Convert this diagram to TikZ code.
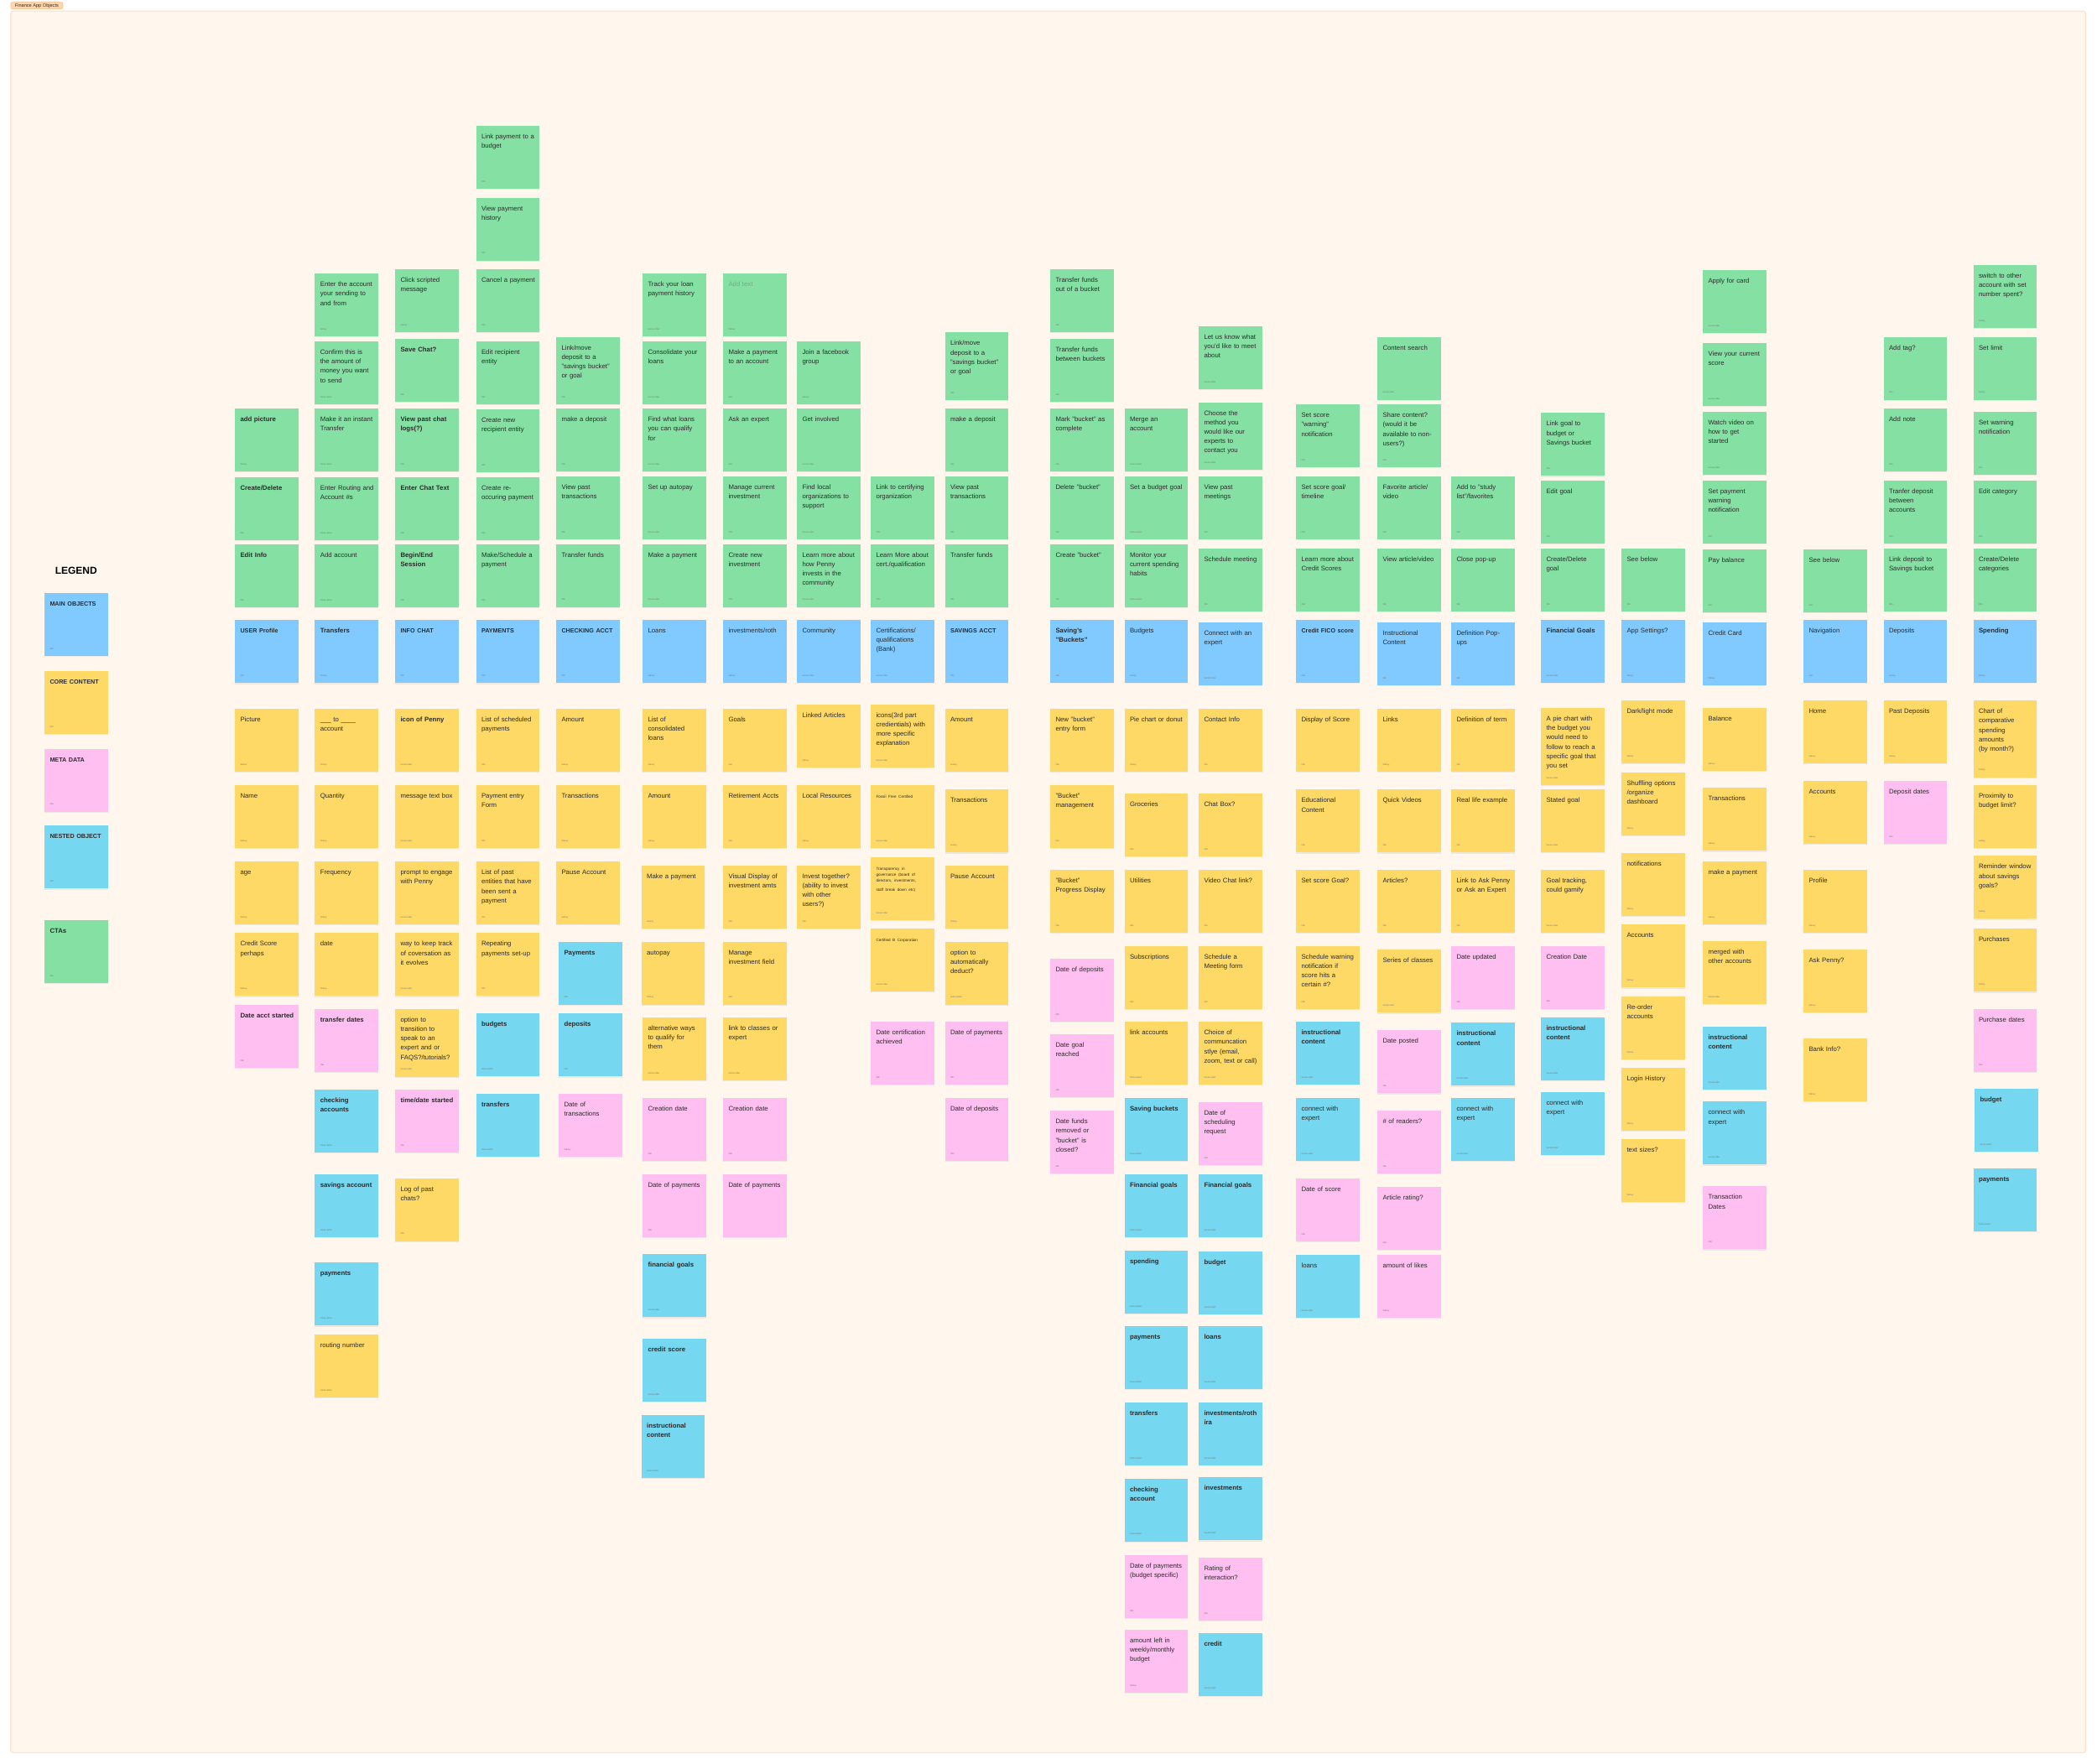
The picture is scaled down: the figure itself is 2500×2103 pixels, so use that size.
\documentclass[tikz,border=0pt]{standalone}
\usepackage{fontspec}
\setmainfont{Liberation Sans}
\usetikzlibrary{shadows}
\definecolor{frameFill}{HTML}{FFF7EE}
\definecolor{frameLine}{HTML}{FFE3C6}
\definecolor{pillFill}{HTML}{FFD6AD}
\definecolor{pillLine}{HTML}{F5B97E}
\definecolor{cG}{HTML}{85E0A3}
\definecolor{cB}{HTML}{80CAFF}
\definecolor{cY}{HTML}{FFD966}
\definecolor{cP}{HTML}{FFBFF0}
\definecolor{cN}{HTML}{75D7F0}
\definecolor{txt}{HTML}{2B2B2B}
\definecolor{authc}{HTML}{7A7A7A}
\definecolor{addtxt}{HTML}{6FAE85}
\newcommand\capsb{\fontsize{7.2}{11.2}\selectfont\bfseries}
\newcommand\tinyfs{\fontsize{4.6}{7}\selectfont}
\tikzset{
  sticky/.style={anchor=north west, inner sep=0pt, outer sep=0pt, minimum width=75.5pt,
    drop shadow={opacity=0.12, shadow xshift=0pt, shadow yshift=-1.2pt}},
  stG/.style={fill=cG}, stB/.style={fill=cB}, stY/.style={fill=cY},
  stP/.style={fill=cP}, stN/.style={fill=cN},
  stxt/.style={anchor=north west, inner sep=0pt, text width=68pt, align=left,
    font=\fontsize{7.8}{11.2}\selectfont, text=txt},
  sauth/.style={anchor=base west, inner sep=0pt, font=\fontsize{2.6}{3}\selectfont, text=authc},
  pill/.style={fill=pillFill, draw=pillLine, line width=0.5pt, rounded corners=2.5pt,
    inner sep=0pt, minimum width=62.3pt, minimum height=8pt, font=\fontsize{5.6}{6}\selectfont, text=txt},
  legendtitle/.style={font=\fontsize{12}{14}\selectfont\bfseries, text=black, inner sep=0pt}
}
\newcommand\stk[7][75]{%
  \node[sticky,#5,minimum height=#1pt] (#2) at (#3,#4) {};
  \node[stxt] (#2-t) at ([xshift=6.3pt,yshift=-7.5pt]#2.north west) {\strut #6};
  \node[sauth] (#2-a) at ([xshift=6.3pt,yshift=7.6pt]#2.south west) {#7};}
\begin{document}
\begin{tikzpicture}[x=1pt,y=-1pt]
\useasboundingbox (0,0) rectangle (2500,2103);
\fill[white] (0,0) rectangle (2500,2103);
\draw[fill=frameFill, draw=frameLine, line width=1.3pt, rounded corners=3pt] (12.7,13.3) rectangle (2486.5,2089.5);
\node[pill] (title) at (43.9,6.7) {Finance App Objects};
% legend
\node[legendtitle] (legend) at (90.8,680.6) {LEGEND};
\stk{L1}{53}{707}{stB}{\capsb MAIN OBJECTS}{Olin}
\stk{L2}{53}{800}{stY}{\capsb CORE CONTENT}{Olin}
\stk{L3}{53}{892.5}{stP}{\capsb META DATA}{Olin}
\stk{L4}{53}{984.3}{stN}{\capsb NESTED OBJECT}{Olin}
\stk{L5}{53}{1097}{stG}{\bfseries CTAs}{Olin}
% col 1
\stk{c1a}{280}{487}{stG}{\bfseries add picture}{Sidney}
\stk{c1b}{280}{568.6}{stG}{\bfseries Create/Delete}{Olin}
\stk{c1c}{280}{648.8}{stG}{\bfseries Edit Info}{Olin}
\stk{c1d}{280}{739.4}{stB}{\capsb USER Profile}{Olin}
\stk{c1e}{280}{844.7}{stY}{Picture}{Sidney}
\stk{c1f}{280}{936}{stY}{Name}{Sidney}
\stk{c1g}{280}{1027}{stY}{age}{Sidney}
\stk{c1h}{280}{1112.3}{stY}{Credit Score\\perhaps}{Sidney}
\stk{c1i}{280}{1198}{stP}{\bfseries Date acct started}{Olin}
% col 2
\stk{c2a}{375.3}{326.1}{stG}{Enter the account\\your sending to\\and from}{Sidney}
\stk{c2b}{375.3}{407}{stG}{Confirm this is\\the amount of\\money you want\\to send}{Greta Heller}
\stk{c2c}{375.3}{487}{stG}{Make it an instant\\Transfer}{Greta Heller}
\stk{c2d}{375.3}{568.6}{stG}{Enter Routing and\\Account \#s}{Greta Heller}
\stk{c2e}{375.3}{648.8}{stG}{Add account}{Greta Heller}
\stk{c2f}{375.3}{739.4}{stB}{\bfseries Transfers}{Sidney}
\stk{c2g}{375.3}{844.7}{stY}{\_\_\_ to \_\_\_\_\\account}{Sidney}
\stk{c2h}{375.3}{936}{stY}{Quantity}{Sidney}
\stk{c2i}{375.3}{1027}{stY}{Frequency}{Sidney}
\stk{c2j}{375.3}{1112.3}{stY}{date}{Sidney}
\stk{c2k}{375.3}{1202.8}{stP}{\bfseries transfer dates}{Olin}
\stk{c2l}{375.3}{1298.9}{stN}{\bfseries checking\\accounts}{Greta Heller}
\stk{c2m}{375.3}{1399.7}{stN}{\bfseries savings account}{Greta Heller}
\stk{c2n}{375.3}{1505.3}{stN}{\bfseries payments}{Greta Heller}
\stk{c2o}{375.3}{1591.1}{stY}{routing number}{Greta Heller}
% col 3
\stk{c3a}{471}{321.2}{stG}{Click scripted\\message}{Sidney}
\stk{c3b}{471}{403.9}{stG}{\bfseries Save Chat?}{Olin}
\stk{c3c}{471}{487}{stG}{\bfseries View past chat\\logs(?)}{Olin}
\stk{c3d}{471}{568.6}{stG}{\bfseries Enter Chat Text}{Olin}
\stk{c3e}{471}{648.8}{stG}{\bfseries Begin/End\\Session}{Olin}
\stk{c3f}{471}{739.4}{stB}{\capsb INFO CHAT}{Olin}
\stk{c3g}{471}{844.7}{stY}{\bfseries icon of Penny}{Greta Heller}
\stk{c3h}{471}{936}{stY}{message text box}{Greta Heller}
\stk{c3i}{471}{1027}{stY}{prompt to engage\\with Penny}{Greta Heller}
\stk{c3j}{471}{1112.3}{stY}{way to keep track\\of coversation as\\it evolves}{Greta Heller}
\stk[80.7]{c3k}{471}{1202.8}{stY}{option to\\transition to\\speak to an\\expert and or\\FAQS?/tutorials?}{Greta Heller}
\stk{c3l}{471}{1298.9}{stP}{\bfseries time/date started}{Olin}
\stk{c3m}{471}{1404.5}{stY}{Log of past\\chats?}{Olin}
% col 4
\stk{c4a}{567.5}{149.8}{stG}{Link payment to a\\budget}{Olin}
\stk{c4b}{567.5}{235.5}{stG}{View payment\\history}{Olin}
\stk{c4c}{567.5}{321.2}{stG}{Cancel a payment}{Olin}
\stk{c4d}{567.5}{407}{stG}{Edit recipient\\entity}{Olin}
\stk{c4e}{567.5}{487.8}{stG}{Create new\\recipient entity}{Olin}
\stk{c4f}{567.5}{568.6}{stG}{Create re-\\occuring payment}{Olin}
\stk{c4g}{567.5}{648.8}{stG}{Make/Schedule a\\payment}{Olin}
\stk{c4h}{567.5}{739.4}{stB}{\capsb PAYMENTS}{Olin}
\stk{c4i}{567.5}{844.7}{stY}{List of scheduled\\payments}{Olin}
\stk{c4j}{567.5}{936}{stY}{Payment entry\\Form}{Olin}
\stk{c4k}{567.5}{1027.2}{stY}{List of past\\entities that have\\been sent a\\payment}{Olin}
\stk{c4l}{567.5}{1112.3}{stY}{Repeating\\payments set-up}{Olin}
\stk{c4m}{567.5}{1208}{stN}{\bfseries budgets}{Greta Heller}
\stk{c4n}{567.5}{1304}{stN}{\bfseries transfers}{Greta Heller}
% col 5
\stk[80.6]{c5a}{663}{401.5}{stG}{Link/move\\deposit to a\\"savings bucket"\\or goal}{Olin}
\stk{c5b}{663}{487.2}{stG}{make a deposit}{Olin}
\stk{c5c}{663}{567.9}{stG}{View past\\transactions}{Olin}
\stk{c5d}{663}{648.5}{stG}{Transfer funds}{Olin}
\stk{c5e}{663}{738.8}{stB}{\capsb CHECKING ACCT}{Olin}
\stk{c5f}{663}{844.9}{stY}{Amount}{Sidney}
\stk{c5g}{663}{936.2}{stY}{Transactions}{Sidney}
\stk{c5h}{663}{1027}{stY}{Pause Account}{Sidney}
\stk{c5i}{666}{1122.5}{stN}{\bfseries Payments}{Olin}
\stk{c5j}{666}{1208.3}{stN}{\bfseries deposits}{Olin}
\stk{c5k}{666}{1304}{stP}{Date of\\transactions}{Sidney}
% col 6
\stk{c6a}{766}{326}{stG}{Track your loan\\payment history}{Greta Heller}
\stk{c6b}{766}{406.6}{stG}{Consolidate your\\loans}{Greta Heller}
\stk{c6c}{766}{487.2}{stG}{Find what loans\\you can qualify\\for}{Greta Heller}
\stk{c6d}{766}{567.9}{stG}{Set up autopay}{Greta Heller}
\stk{c6e}{766}{648.5}{stG}{Make a payment}{Greta Heller}
\stk{c6f}{766}{738.8}{stB}{Loans}{Sidney}
\stk{c6g}{766}{844.9}{stY}{List of\\consolidated\\loans}{Sidney}
\stk{c6h}{766}{936.2}{stY}{Amount}{Sidney}
\stk{c6i}{764.6}{1031.6}{stY}{Make a payment}{Sidney}
\stk{c6j}{764.6}{1122.5}{stY}{autopay}{Sidney}
\stk{c6k}{766}{1213}{stY}{alternative ways\\to qualify for\\them}{Greta Heller}
\stk{c6l}{766}{1309.2}{stP}{Creation date}{Olin}
\stk{c6m}{766}{1399.7}{stP}{Date of payments}{Olin}
\stk{c6n}{766}{1495.4}{stN}{\bfseries financial goals}{Greta Heller}
\stk{c6o}{766}{1595.8}{stN}{\bfseries credit score}{Greta Heller}
\stk{c6p}{764.6}{1686.8}{stN}{\bfseries instructional\\content}{Greta Heller}
% col 7
\stk{c7a}{862}{326}{stG}{\color{addtxt}Add text}{Sidney}
\stk{c7b}{862}{406.6}{stG}{Make a payment\\to an account}{Olin}
\stk{c7c}{862}{487.2}{stG}{Ask an expert}{Olin}
\stk{c7d}{862}{567.9}{stG}{Manage current\\investment}{Olin}
\stk{c7e}{862}{648.5}{stG}{Create new\\investment}{Olin}
\stk{c7f}{862}{738.8}{stB}{investments/roth}{Sidney}
\stk{c7g}{862}{844.9}{stY}{Goals}{Olin}
\stk{c7h}{862}{936.2}{stY}{Retirement Accts}{Olin}
\stk{c7i}{862}{1031.6}{stY}{Visual Display of\\investment amts}{Olin}
\stk{c7j}{862}{1122.5}{stY}{Manage\\investment field}{Olin}
\stk{c7k}{862}{1213}{stY}{link to classes or\\expert}{Greta Heller}
\stk{c7l}{862}{1309.2}{stP}{Creation date}{Olin}
\stk{c7m}{862}{1399.7}{stP}{Date of payments}{}
% col 8
\stk{c8a}{950}{406.6}{stG}{Join a facebook\\group}{Sidney}
\stk{c8b}{950}{487.2}{stG}{Get involved}{Greta Heller}
\stk{c8c}{950}{567.9}{stG}{Find local\\organizations to\\support}{Greta Heller}
\stk{c8d}{950}{648.5}{stG}{Learn more about\\how Penny\\invests in the\\community}{Greta Heller}
\stk{c8e}{950}{738.8}{stB}{Community}{Greta Heller}
\stk{c8f}{950}{839.8}{stY}{Linked Articles}{Sidney}
\stk{c8g}{950}{936.2}{stY}{Local Resources}{Sidney}
\stk{c8h}{950}{1031.6}{stY}{Invest together?\\(ability to invest\\with other\\users?)}{Olin}
% col 9
\stk{c9a}{1038}{567.9}{stG}{Link to certifying\\organization}{Olin}
\stk{c9b}{1038}{648.5}{stG}{Learn More about\\cert./qualification}{Olin}
\stk{c9c}{1038}{738.8}{stB}{Certifications/\\qualifications\\(Bank)}{Greta Heller}
\stk{c9d}{1038}{839.8}{stY}{icons(3rd part\\credientials) with\\more specific\\explanation}{Greta Heller}
\stk{c9e}{1038}{936.2}{stY}{\tinyfs Fossil Free Certified}{Greta Heller}
\stk{c9f}{1038}{1022}{stY}{\tinyfs Transparency in\\governance (board of\\directors, investments,\\staff break down etc)}{Greta Heller}
\stk{c9g}{1038}{1106.8}{stY}{\tinyfs Certified B Corporation}{Greta Heller}
\stk{c9h}{1038}{1218.2}{stP}{Date certification\\achieved}{Olin}
% col 10
\stk[80.6]{c10a}{1126.5}{396.4}{stG}{Link/move\\deposit to a\\"savings bucket"\\or goal}{Olin}
\stk{c10b}{1126.5}{487.2}{stG}{make a deposit}{Olin}
\stk{c10c}{1126.5}{567.9}{stG}{View past\\transactions}{Olin}
\stk{c10d}{1126.5}{648.5}{stG}{Transfer funds}{Olin}
\stk{c10e}{1126.5}{738.8}{stB}{\capsb SAVINGS ACCT}{Olin}
\stk{c10f}{1126.5}{844.9}{stY}{Amount}{Sidney}
\stk{c10g}{1126.5}{941.3}{stY}{Transactions}{Sidney}
\stk{c10h}{1126.5}{1031.6}{stY}{Pause Account}{Sidney}
\stk{c10i}{1126.5}{1122.5}{stY}{option to\\automatically\\deduct?}{Greta Heller}
\stk{c10j}{1126.5}{1218.2}{stP}{Date of payments}{Olin}
\stk{c10k}{1126.5}{1309.2}{stP}{Date of deposits}{Olin}
% col 11
\stk{c11a}{1252}{320.9}{stG}{Transfer funds\\out of a bucket}{Olin}
\stk{c11b}{1252}{404}{stG}{Transfer funds\\between buckets}{Olin}
\stk{c11c}{1252}{487.2}{stG}{Mark "bucket" as\\complete}{Olin}
\stk{c11d}{1252}{567.9}{stG}{Delete "bucket"}{Olin}
\stk{c11e}{1252}{648.5}{stG}{Create "bucket"}{Olin}
\stk{c11f}{1252}{738.8}{stB}{\bfseries Saving's\\"Buckets"}{Olin}
\stk{c11g}{1252}{844.9}{stY}{New "bucket"\\entry form}{Olin}
\stk{c11h}{1252}{936.2}{stY}{"Bucket"\\management}{Olin}
\stk{c11i}{1252}{1037.2}{stY}{"Bucket"\\Progress Display}{Olin}
\stk{c11j}{1252}{1142.6}{stP}{Date of deposits}{Olin}
\stk{c11k}{1252}{1233.1}{stP}{Date goal\\reached}{Olin}
\stk{c11l}{1252}{1324.2}{stP}{Date funds\\removed or\\"bucket" is\\closed?}{Olin}
% col 12
\stk{c12a}{1340.5}{487.2}{stG}{Merge an\\account}{Greta Heller}
\stk{c12b}{1340.5}{567.9}{stG}{Set a budget goal}{Greta Heller}
\stk{c12c}{1340.5}{648.5}{stG}{Monitor your\\current spending\\habits}{Greta Heller}
\stk{c12d}{1340.5}{738.8}{stB}{Budgets}{Sidney}
\stk{c12e}{1340.5}{844.9}{stY}{Pie chart or donut}{Sidney}
\stk{c12f}{1340.5}{945.9}{stY}{Groceries}{Olin}
\stk{c12g}{1340.5}{1037.2}{stY}{Utilities}{Olin}
\stk{c12h}{1340.5}{1127.6}{stY}{Subscriptions}{Olin}
\stk{c12i}{1340.5}{1218.1}{stY}{link accounts}{Greta Heller}
\stk{c12j}{1340.5}{1309.2}{stN}{\bfseries Saving buckets}{Greta Heller}
\stk{c12k}{1340.5}{1399.8}{stN}{\bfseries Financial goals}{Greta Heller}
\stk{c12l}{1340.5}{1490.9}{stN}{\bfseries spending}{Greta Heller}
\stk{c12m}{1340.5}{1580.8}{stN}{\bfseries payments}{Greta Heller}
\stk{c12n}{1340.5}{1671.9}{stN}{\bfseries transfers}{Greta Heller}
\stk{c12o}{1340.5}{1762.5}{stN}{\bfseries checking\\account}{Greta Heller}
\stk{c12p}{1340.5}{1853.6}{stP}{Date of payments\\(budget specific)}{Olin}
\stk{c12q}{1340.5}{1942.9}{stP}{amount left in\\weekly/monthly\\budget}{Sidney}
% col 13
\stk{c13a}{1429}{388.8}{stG}{Let us know what\\you'd like to meet\\about}{Greta Heller}
\stk[80.6]{c13b}{1429}{479.6}{stG}{Choose the\\method you\\would like our\\experts to\\contact you}{Greta Heller}
\stk{c13c}{1429}{567.9}{stG}{View past\\meetings}{Olin}
\stk{c13d}{1429}{653.6}{stG}{Schedule meeting}{Olin}
\stk{c13e}{1429}{741.8}{stB}{Connect with an\\expert}{Greta Heller}
\stk{c13f}{1429}{844.9}{stY}{Contact Info}{Olin}
\stk{c13g}{1429}{945.9}{stY}{Chat Box?}{Olin}
\stk{c13h}{1429}{1037.2}{stY}{Video Chat link?}{Olin}
\stk{c13i}{1429}{1127.6}{stY}{Schedule a\\Meeting form}{Olin}
\stk{c13j}{1429}{1218.1}{stY}{Choice of\\communcation\\stlye (email,\\zoom, text or call)}{Greta Heller}
\stk{c13k}{1429}{1314}{stP}{Date of\\scheduling\\request}{Olin}
\stk{c13l}{1429}{1399.8}{stN}{\bfseries Financial goals}{Greta Heller}
\stk{c13m}{1429}{1492}{stN}{\bfseries budget}{Greta Heller}
\stk{c13n}{1429}{1580.8}{stN}{\bfseries loans}{Greta Heller}
\stk{c13o}{1429}{1671.9}{stN}{\bfseries investments/roth\\ira}{Greta Heller}
\stk{c13p}{1429}{1761.3}{stN}{\bfseries investments}{Greta Heller}
\stk{c13q}{1429}{1857.2}{stP}{Rating of\\interaction?}{Olin}
\stk{c13r}{1429}{1946.5}{stN}{\bfseries credit}{Greta Heller}
% col 14
\stk{c14a}{1545}{482.1}{stG}{Set score\\"warning"\\notification}{Olin}
\stk{c14b}{1545}{567.9}{stG}{Set score goal/\\timeline}{Olin}
\stk{c14c}{1545}{653.6}{stG}{Learn more about\\Credit Scores}{Olin}
\stk{c14d}{1545}{738.8}{stB}{\capsb Credit FICO score}{Olin}
\stk{c14e}{1545}{844.9}{stY}{Display of Score}{Olin}
\stk{c14f}{1545}{941.3}{stY}{Educational\\Content}{Olin}
\stk{c14g}{1545}{1037.2}{stY}{Set score Goal?}{Olin}
\stk{c14h}{1545}{1127.6}{stY}{Schedule warning\\notification if\\score hits a\\certain \#?}{Olin}
\stk{c14i}{1545}{1218.1}{stN}{\bfseries instructional\\content}{Greta Heller}
\stk{c14j}{1545}{1309.2}{stN}{connect with\\expert}{Greta Heller}
\stk{c14k}{1545}{1405.2}{stP}{Date of score}{Olin}
\stk{c14l}{1545}{1495.7}{stN}{loans}{Greta Heller}
% col 15
\stk{c15a}{1642}{401.5}{stG}{Content search}{Greta Heller}
\stk{c15b}{1642}{482.1}{stG}{Share content?\\(would it be\\available to non-\\users?)}{Olin}
\stk{c15c}{1642}{567.9}{stG}{Favorite article/\\video}{Olin}
\stk{c15d}{1642}{653.6}{stG}{View article/video}{Olin}
\stk{c15e}{1642}{741.8}{stB}{Instructional\\Content}{Olin}
\stk{c15f}{1642}{844.9}{stY}{Links}{Sidney}
\stk{c15g}{1642}{941.3}{stY}{Quick Videos}{Olin}
\stk{c15h}{1642}{1037.2}{stY}{Articles?}{Olin}
\stk{c15i}{1642}{1132.4}{stY}{Series of classes}{Greta Heller}
\stk{c15j}{1642}{1228.3}{stP}{Date posted}{Olin}
\stk{c15k}{1642}{1324.2}{stP}{\# of readers?}{Olin}
\stk{c15l}{1642}{1414.7}{stP}{Article rating?}{Olin}
\stk{c15m}{1642}{1495.7}{stP}{amount of likes}{Sidney}
% col 16
\stk{c16a}{1730}{567.9}{stG}{Add to "study\\list"/favorites}{Olin}
\stk{c16b}{1730}{653.6}{stG}{Close pop-up}{Olin}
\stk{c16c}{1730}{741.8}{stB}{Definition Pop-\\ups}{Olin}
\stk{c16d}{1730}{844.9}{stY}{Definition of term}{Olin}
\stk{c16e}{1730}{941.3}{stY}{Real life example}{Olin}
\stk{c16f}{1730}{1037.2}{stY}{Link to Ask Penny\\or Ask an Expert}{Olin}
\stk{c16g}{1730}{1127.6}{stP}{Date updated}{Olin}
\stk{c16h}{1730}{1219.3}{stN}{\bfseries instructional\\content}{Greta Heller}
\stk{c16i}{1730}{1309.2}{stN}{connect with\\expert}{Greta Heller}
% col 17
\stk{c17a}{1837}{492.3}{stG}{Link goal to\\budget or\\Savings bucket}{Olin}
\stk{c17b}{1837}{573}{stG}{Edit goal}{Olin}
\stk{c17c}{1837}{653.6}{stG}{Create/Delete\\goal}{Olin}
\stk{c17d}{1837}{738.8}{stB}{\bfseries Financial Goals}{Greta Heller}
\stk[91.8]{c17e}{1837}{843.9}{stY}{A pie chart with\\the budget you\\would need to\\follow to reach a\\specific goal that\\you set}{Greta Heller}
\stk{c17f}{1837}{940.8}{stY}{Stated goal}{Greta Heller}
\stk{c17g}{1837}{1037.2}{stY}{Goal tracking,\\could gamify}{Greta Heller}
\stk{c17h}{1837}{1127.5}{stP}{Creation Date}{Olin}
\stk{c17i}{1837}{1212.8}{stN}{\bfseries instructional\\content}{Greta Heller}
\stk{c17j}{1837}{1301.7}{stN}{connect with\\expert}{Greta Heller}
% col 18
\stk{c18a}{1933}{653.6}{stG}{See below}{Olin}
\stk{c18b}{1933}{738.8}{stB}{App Settings?}{Sidney}
\stk{c18c}{1933}{835.2}{stY}{Dark/light mode}{Sidney}
\stk{c18d}{1933}{920.9}{stY}{Shuffling options\\/organize\\dashboard}{Sidney}
\stk{c18e}{1933}{1016.8}{stY}{notifications}{Sidney}
\stk{c18f}{1933}{1102.3}{stY}{Accounts}{Sidney}
\stk{c18g}{1933}{1187.6}{stY}{Re-order\\accounts}{Sidney}
\stk{c18h}{1933}{1272.8}{stY}{Login History}{Sidney}
\stk{c18i}{1933}{1358}{stY}{text sizes?}{Sidney}
% col 19
\stk{c19a}{2030}{321.9}{stG}{Apply for card}{Greta Heller}
\stk{c19b}{2030}{409.2}{stG}{View your current\\score}{Greta Heller}
\stk{c19c}{2030}{490.8}{stG}{Watch video on\\how to get\\started}{Greta Heller}
\stk{c19d}{2030}{573}{stG}{Set payment\\warning\\notification}{Olin}
\stk{c19e}{2030}{655.1}{stG}{Pay balance}{Olin}
\stk{c19f}{2030}{741.8}{stB}{Credit Card}{Sidney}
\stk{c19g}{2030}{843.9}{stY}{Balance}{Sidney}
\stk{c19h}{2030}{939.3}{stY}{Transactions}{Sidney}
\stk{c19i}{2030}{1027}{stY}{make a payment}{Sidney}
\stk{c19j}{2030}{1122.2}{stY}{merged with\\other accounts}{Greta Heller}
\stk{c19k}{2030}{1224}{stN}{\bfseries instructional\\content}{Greta Heller}
\stk{c19l}{2030}{1313.3}{stN}{connect with\\expert}{Greta Heller}
\stk{c19m}{2030}{1414.4}{stP}{Transaction\\Dates}{Olin}
% col 20
\stk{c20a}{2150}{655.1}{stG}{See below}{Olin}
\stk{c20b}{2150}{738.8}{stB}{Navigation}{Olin}
\stk{c20c}{2150}{835.2}{stY}{Home}{Sidney}
\stk{c20d}{2150}{931.1}{stY}{Accounts}{Sidney}
\stk{c20e}{2150}{1037.2}{stY}{Profile}{Sidney}
\stk{c20f}{2150}{1132.2}{stY}{Ask Penny?}{Sidney}
\stk{c20g}{2150}{1237.6}{stY}{Bank Info?}{Sidney}
% col 21
\stk{c21a}{2245.5}{401.5}{stG}{Add tag?}{Olin}
\stk{c21b}{2245.5}{487.2}{stG}{Add note}{Olin}
\stk{c21c}{2245.5}{573}{stG}{Tranfer deposit\\between\\accounts}{Olin}
\stk{c21d}{2245.5}{653.6}{stG}{Link deposit to\\Savings bucket}{Olin}
\stk{c21e}{2245.5}{738.8}{stB}{Deposits}{Sidney}
\stk{c21f}{2245.5}{835.2}{stY}{Past Deposits}{Sidney}
\stk{c21g}{2245.5}{931.1}{stP}{Deposit dates}{Olin}
% col 22
\stk{c22a}{2352.5}{315.8}{stG}{switch to other\\account with set\\number spent?}{Sidney}
\stk{c22b}{2352.5}{401.5}{stG}{Set limit}{Sidney}
\stk{c22c}{2352.5}{490.8}{stG}{Set warning\\notification}{Olin}
\stk{c22d}{2352.5}{573}{stG}{Edit category}{Olin}
\stk{c22e}{2352.5}{653.6}{stG}{Create/Delete\\categories}{Olin}
\stk{c22f}{2352.5}{738.8}{stB}{\bfseries Spending}{Sidney}
\stk[91.3]{c22g}{2352.5}{835.2}{stY}{Chart of\\comparative\\spending\\amounts\\(by month?)}{Sidney}
\stk{c22h}{2352.5}{936.2}{stY}{Proximity to\\budget limit?}{Sidney}
\stk{c22i}{2352.5}{1020.4}{stY}{Reminder window\\about savings\\goals?}{Sidney}
\stk{c22j}{2352.5}{1107.3}{stY}{Purchases}{Sidney}
\stk{c22k}{2352.5}{1202.8}{stP}{Purchase dates}{Olin}
\stk{c22l}{2354}{1298}{stN}{\bfseries budget}{Greta Heller}
\stk{c22m}{2352.5}{1393.2}{stN}{\bfseries payments}{Greta Heller}
\end{tikzpicture}
\end{document}
